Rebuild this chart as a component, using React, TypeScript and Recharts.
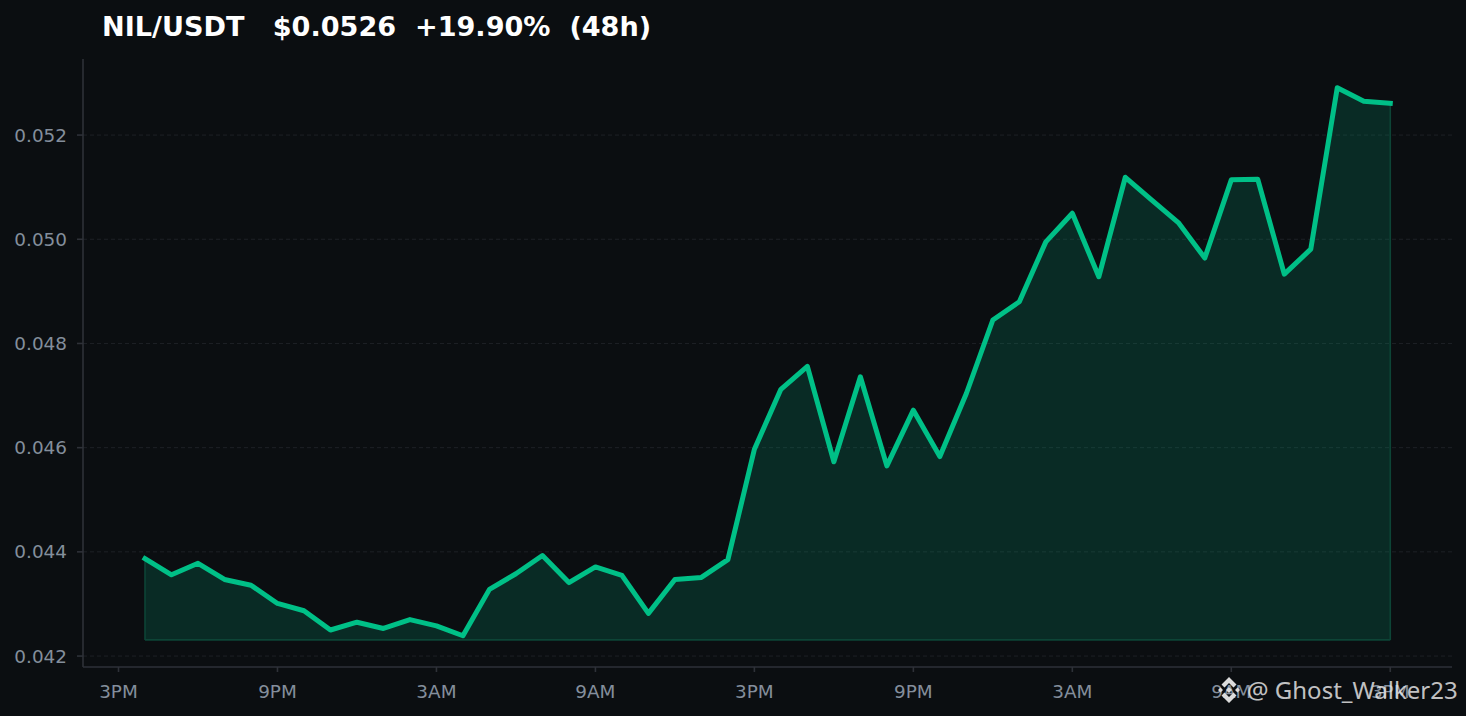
import React from "react";
import { ComposedChart, Area, Line, XAxis, YAxis, CartesianGrid, ReferenceLine } from "recharts";

const hours = [1,2,3,4,5,6,7,8,9,10,11,12,13,14,15,16,17,18,19,20,21,22,23,24,25,26,27,28,29,30,31,32,33,34,35,36,37,38,39,40,41,42,43,44,45,46,47,48];
const prices = [
  0.04387,0.04356,0.04378,0.04347,0.04336,0.04301,0.04287,0.04250,0.04265,0.04253,0.04270,0.04258,
  0.04239,0.04328,0.04358,0.04393,0.04341,0.04371,0.04355,0.04282,0.04347,0.04351,0.04385,0.04597,
  0.04712,0.04756,0.04573,0.04736,0.04565,0.04672,0.04583,0.04704,0.04845,0.04880,0.04995,0.05050,
  0.04928,0.05119,0.05075,0.05032,0.04964,0.05114,0.05115,0.04933,0.04981,0.05291,0.05265,0.05261,
];
const xTickValues = [0,6,12,18,24,30,36,42,48];
const xTickLabels = ["3PM","9PM","3AM","9AM","3PM","9PM","3AM","9AM","3PM"];
const yTickValues = [0.042,0.044,0.046,0.048,0.05,0.052];
const baseValue = 0.04231;
const xDomain = [-1.34, 50.33];
const yDomain = [0.04179, 0.05346];
const title = "NIL/USDT   $0.0526  +19.90%  (48h)";
const watermark = "@ Ghost_Walker23";

const data = hours.map((h, i) => ({ h, price: prices[i] }));
const BG = "#0b0e11";
const GREEN = "#00c087";
const EDGE = "#0d4436";
const AXIS = "#2e3138";
const TICK = "#848e9c";

export default function App() {
  return (
    <div style={{ position: "absolute", left: 0, top: 0, width: 1466, height: 716, background: BG, overflow: "hidden" }}>
      <ComposedChart width={1466} height={716} data={data} margin={{ top: 59, right: 14, bottom: 0, left: 0 }}>
        <CartesianGrid
          horizontal
          vertical={false}
          stroke="#1e2126"
          strokeDasharray="4 3"
          syncWithTicks
          horizontalValues={yTickValues}
        />
        <XAxis
          type="number"
          dataKey="h"
          domain={xDomain}
          ticks={xTickValues}
          tickFormatter={(v: number) => xTickLabels[xTickValues.indexOf(v)]}
          height={49}
          stroke={AXIS}
          strokeWidth={1.6}
          tickSize={5}
          tickMargin={13}
          tick={{ fill: TICK, fontSize: 18.4, fontFamily: "DejaVu Sans" }}
          interval={0}
        />
        <YAxis
          type="number"
          domain={yDomain}
          ticks={yTickValues}
          tickFormatter={(v: number) => v.toFixed(3)}
          width={83}
          stroke={AXIS}
          strokeWidth={1.6}
          tickSize={6}
          tickMargin={10}
          tick={{ fill: TICK, fontSize: 18.4, fontFamily: "DejaVu Sans" }}
          interval={0}
        />
        <Area
          dataKey="price"
          baseValue={baseValue}
          type="linear"
          stroke="none"
          fill={GREEN}
          fillOpacity={0.17}
          isAnimationActive={false}
          dot={false}
          activeDot={false}
        />
        <ReferenceLine segment={[{ x: hours[0], y: baseValue }, { x: hours[47], y: baseValue }]} stroke={EDGE} strokeWidth={1.6} />
        <ReferenceLine segment={[{ x: hours[0], y: baseValue }, { x: hours[0], y: prices[0] }]} stroke={EDGE} strokeWidth={1.6} />
        <ReferenceLine segment={[{ x: hours[47], y: baseValue }, { x: hours[47], y: prices[47] }]} stroke={EDGE} strokeWidth={1.6} />
        <Line
          dataKey="price"
          type="linear"
          stroke={GREEN}
          strokeWidth={5}
          strokeLinejoin="round"
          strokeLinecap="square"
          dot={false}
          activeDot={false}
          isAnimationActive={false}
        />
      </ComposedChart>
      <div style={{ position: "absolute", left: 102, top: 11, fontFamily: "DejaVu Sans", fontWeight: 700, fontSize: 27.1, lineHeight: "31px", color: "#ffffff", whiteSpace: "pre" }}>
        {title}
      </div>
      <svg width="28" height="28" viewBox="0 0 28 28" style={{ position: "absolute", left: 1215, top: 676 }}>
        <g fill="#dcdcdc">
          <path d="M14 1 L21.5 8.5 L18.5 11.5 L14 7 L9.5 11.5 L6.5 8.5 Z" />
          <path d="M14 27 L21.5 19.5 L18.5 16.5 L14 21 L9.5 16.5 L6.5 19.5 Z" />
          <path d="M3 14 L5.5 11.5 L8 14 L5.5 16.5 Z" />
          <path d="M20 14 L22.5 11.5 L25 14 L22.5 16.5 Z" />
          <path d="M14 11 L17 14 L14 17 L11 14 Z" />
        </g>
      </svg>
      <div style={{ position: "absolute", left: 1247, top: 673, fontFamily: "Noto Sans", fontSize: 24, lineHeight: "33px", color: "rgba(235,235,235,0.82)", whiteSpace: "pre" }}>
        {watermark}
      </div>
    </div>
  );
}
